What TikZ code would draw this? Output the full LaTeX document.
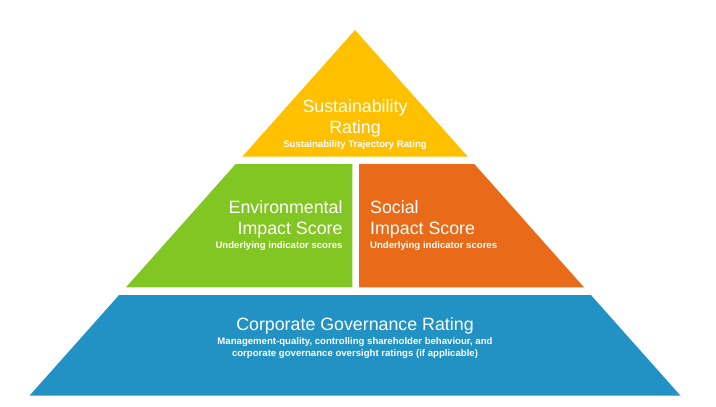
\documentclass[tikz,border=0pt]{standalone}
\usepackage{fontspec}
\setmainfont{Liberation Sans}
\definecolor{sustyellow}{HTML}{FFC000}
\definecolor{envgreen}{HTML}{82C623}
\definecolor{socorange}{HTML}{E96B1A}
\definecolor{govblue}{HTML}{2291C3}

\begin{document}
\begin{tikzpicture}[x=1pt, y=-1pt, every node/.style={text=white, inner sep=0pt},
  head/.style={font=\fontsize{17.8}{21}\selectfont},
  sub/.style={font=\fontsize{9.6}{12}\selectfont\bfseries}]
  \useasboundingbox (0,0) rectangle (716,407);
  % tier 1: apex triangle
  \fill[sustyellow] (355,30) -- (467.8,156.7) -- (242.2,156.7) -- cycle;
  \node[head, anchor=base] (sustA) at (355,112.5) {Sustainability};
  \node[head, anchor=base] (sustB) at (355,133.5) {Rating};
  \node[sub, anchor=base]  (sustC) at (355,147.5) {Sustainability Trajectory Rating};
  % tier 2: environmental | social
  \fill[envgreen]  (235.7,164) -- (352.3,164) -- (352.3,287.3) -- (126,287.3) -- cycle;
  \fill[socorange] (359,164) -- (474.3,164) -- (584,287.3) -- (359,287.3) -- cycle;
  \node[head, anchor=base east] (envA) at (342.7,213.5) {Environmental};
  \node[head, anchor=base east] (envB) at (342.7,234.5) {Impact Score};
  \node[sub, anchor=base east]  (envC) at (342.7,248) {Underlying indicator scores};
  \node[head, anchor=base west] (socA) at (370,213.5) {Social};
  \node[head, anchor=base west] (socB) at (370,234.5) {Impact Score};
  \node[sub, anchor=base west]  (socC) at (370,248) {Underlying indicator scores};
  % tier 3: governance base
  \fill[govblue] (119.1,295) -- (590.9,295) -- (680.5,395.7) -- (29.5,395.7) -- cycle;
  \node[head, anchor=base] (govA) at (355,330.5) {Corporate Governance Rating};
  \node[sub, anchor=base]  (govB) at (355,344.5) {Management-quality, controlling shareholder behaviour, and};
  \node[sub, anchor=base]  (govC) at (355,356.5) {corporate governance oversight ratings (if applicable)};
\end{tikzpicture}
\end{document}
